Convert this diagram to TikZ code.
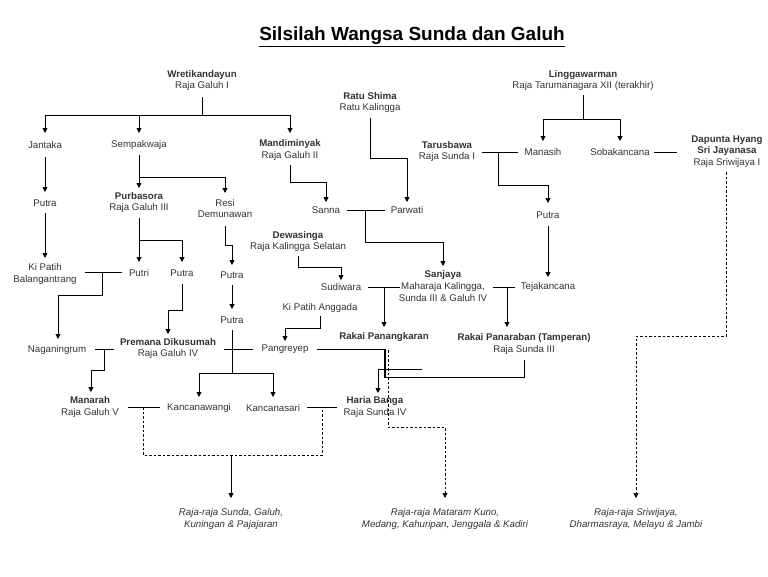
\documentclass[tikz,border=0pt]{standalone}
\usepackage{fontspec}
\setmainfont{Liberation Sans}
\usetikzlibrary{arrows.meta}
\begin{document}
\begin{tikzpicture}[x=1pt,y=-1pt,
  n/.style={font=\fontsize{9.7}{11.7}\selectfont,align=center,inner sep=0pt,text=black!80},
  it/.style={n,font=\fontsize{9.7}{11.7}\selectfont\itshape},
  c/.style={line width=0.9pt,black},
  a/.style={c,-{Triangle[length=5pt,width=5pt]}},
  d/.style={line width=0.9pt,dash pattern=on 2.5pt off 2pt},
  da/.style={d,-{Triangle[length=5pt,width=5pt]}}]
\useasboundingbox (0,0) rectangle (768,576);
\node[font=\fontsize{19}{22}\selectfont\bfseries] (t) at (412,37) {\underline{Silsilah Wangsa Sunda dan Galuh}};
% nodes
\node[n] (wr) at (202,80.5) {\textbf{Wretikandayun}\\Raja Galuh I};
\node[n] (ja) at (45,145) {Jantaka};
\node[n] (se) at (139,145) {Sempakwaja};
\node[n] (ma) at (290,150) {\textbf{Mandiminyak}\\Raja Galuh II};
\node[n] (p1) at (45,203) {Putra};
\node[n] (kb) at (45,274) {Ki Patih\\Balangantrang};
\node[n] (pu) at (139,202.5) {\textbf{Purbasora}\\Raja Galuh III};
\node[n] (rd) at (225,208.5) {Resi\\Demunawan};
\node[n] (pi) at (139,273) {Putri};
\node[n] (p2) at (182,273) {Putra};
\node[n] (p3) at (232,275) {Putra};
\node[n] (p4) at (232,320) {Putra};
\node[n] (ng) at (57,350) {Naganingrum};
\node[n] (pd) at (168,348.5) {\textbf{Premana Dikusumah}\\Raja Galuh IV};
\node[n] (mr) at (90,407) {\textbf{Manarah}\\Raja Galuh V};
\node[n] (kw) at (199,408) {Kancanawangi};
\node[n] (ks) at (273,408) {Kancanasari};
\node[n] (ka) at (320,308) {Ki Patih Anggada};
\node[n] (pg) at (285,349) {Pangreyep};
\node[n] (hb) at (375,407) {\textbf{Haria Banga}\\Raja Sunda IV};
\node[n] (rs) at (370,102.5) {\textbf{Ratu Shima}\\Ratu Kalingga};
\node[n] (sa) at (326,210) {Sanna};
\node[n] (pw) at (407,210) {Parwati};
\node[n] (dw) at (298,241.5) {\textbf{Dewasinga}\\Raja Kalingga Selatan};
\node[n] (sd) at (341,287) {Sudiwara};
\node[n] (sj) at (443,286) {\textbf{Sanjaya}\\Maharaja Kalingga,\\Sunda III \& Galuh IV};
\node[n] (rp) at (384,337) {\textbf{Rakai Panangkaran}};
\node[n] (lw) at (583,80.5) {\textbf{Linggawarman}\\Raja Tarumanagara XII (terakhir)};
\node[n] (mn) at (543,152) {Manasih};
\node[n] (sb) at (620,152) {Sobakancana};
\node[n] (tb) at (447,151.5) {\textbf{Tarusbawa}\\Raja Sunda I};
\node[n] (p5) at (548,215) {Putra};
\node[n] (tk) at (548,287) {Tejakancana};
\node[n] (rt) at (524,344) {\textbf{Rakai Panaraban (Tamperan)}\\Raja Sunda III};
\node[n] (dh) at (727,151.5) {\textbf{Dapunta Hyang}\\\textbf{Sri Jayanasa}\\Raja Sriwijaya I};
\node[it] (o1) at (231,519) {Raja-raja Sunda, Galuh,\\Kuningan \& Pajajaran};
\node[it] (o2) at (445,519) {Raja-raja Mataram Kuno,\\Medang, Kahuripan, Jenggala \& Kadiri};
\node[it] (o3) at (636,519) {Raja-raja Sriwijaya,\\Dharmasraya, Melayu \& Jambi};
% Wretikandayun
\draw[c] (202,97) -- (202,115);
\draw[c] (45,115) -- (290,115);
\draw[a] (45,115) -- (45,133);
\draw[a] (139,115) -- (139,133);
\draw[a] (290,115) -- (290,133);
\draw[a] (ja) ++(0,12) -- (45,192);
\draw[a] (p1) ++(0,10) -- (45,258);
\draw[c] (139,155) -- (139,177) -- (225,177);
\draw[a] (139,177) -- (139,188);
\draw[a] (225,177) -- (225,193);
\draw[c] (139,218) -- (139,240) -- (182,240);
\draw[a] (139,240) -- (139,262);
\draw[a] (182,240) -- (182,262);
\draw[c] (225,226) -- (225,245) -- (232,245);
\draw[a] (232,245) -- (232,265);
\draw[a] (232,285) -- (232,309);
\draw[c] (85,272) -- (122,272);
\draw[c] (102,272) -- (102,295) -- (58,295);
\draw[a] (58,295) -- (58,339);
\draw[c] (182,284) -- (182,310) -- (168,310);
\draw[a] (168,310) -- (168,334);
\draw[c] (95,349) -- (114,349);
\draw[c] (104,349) -- (104,370) -- (91,370);
\draw[a] (91,370) -- (91,392);
\draw[c] (224,349) -- (253,349);
\draw[c] (232,330) -- (232,373);
\draw[c] (199,373) -- (273,373);
\draw[a] (199,373) -- (199,397);
\draw[a] (273,373) -- (273,397);
\draw[c] (320,316) -- (320,328) -- (285,328);
\draw[a] (285,328) -- (285,341);
% Pangreyep / Haria Banga
\draw[c] (317,349) -- (385,349);
\draw[line width=1.8pt] (385,349) -- (385,378);
\draw[c] (524,360) -- (524,377) -- (384,377);
\draw[c] (378,369) -- (422,369);
\draw[a] (378,369) -- (378,393);
\draw[da] (388,350) -- (388,427) -- (445,427) -- (445,498);
% lower dashed
\draw[c] (128,407) -- (160,407);
\draw[c] (307,407) -- (337,407);
\draw[d] (143,407) -- (143,455) -- (322,455) -- (322,407);
\draw[a] (231,455) -- (231,498);
% right part
\draw[c] (370,118) -- (370,158) -- (407,158);
\draw[a] (407,158) -- (407,202);
\draw[c] (290,165) -- (290,182) -- (326,182);
\draw[a] (326,182) -- (326,202);
\draw[c] (347,210) -- (385,210);
\draw[c] (365,210) -- (365,242) -- (443,242);
\draw[a] (443,242) -- (443,266);
\draw[c] (298,256) -- (298,267) -- (341,267);
\draw[a] (341,267) -- (341,280);
\draw[c] (368,287) -- (400,287);
\draw[a] (384,287) -- (384,327);
\draw[c] (583,95) -- (583,119);
\draw[c] (543,119) -- (620,119);
\draw[a] (543,119) -- (543,141);
\draw[a] (620,119) -- (620,141);
\draw[c] (482,152) -- (518,152);
\draw[c] (498,152) -- (498,185) -- (548,185);
\draw[a] (548,185) -- (548,203);
\draw[a] (548,226) -- (548,277);
\draw[c] (493,287) -- (515,287);
\draw[a] (507,287) -- (507,327);
\draw[c] (654,152) -- (677,152);
\draw[da] (726,172) -- (726,336) -- (636,336) -- (636,498);
\end{tikzpicture}
\end{document}
